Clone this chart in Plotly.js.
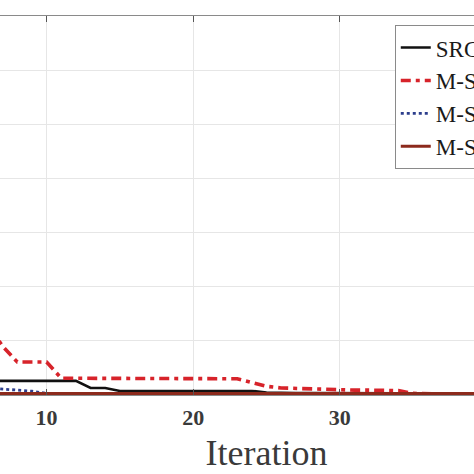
<!DOCTYPE html>
<html>
<head>
<meta charset="utf-8">
<script src="https://cdn.plot.ly/plotly-3.0.1.min.js"></script>
<style>
  html, body { margin: 0; padding: 0; overflow: hidden; width: 474px; height: 474px; background: #fff; }
  #chart { position: absolute; left: -180.5px; top: 0; }
</style>
</head>
<body>
<div id="chart"></div>
<script>
// Iteration numbers
const iterations = [1,2,3,4,5,6,7,8,9,10,11,12,13,14,15,16,17,18,19,20,21,22,23,24,25,26,27,28,29,30,31,32,33,34,35,36,37,38,39,40,41,42,43,44,45,46,47,48,49,50];

// Series names (legend)
const seriesNames = ["SRGA", "M-SRGA1", "M-SRGA2", "M-SRGA3"];

// Series values (off-screen early values estimated)
const srValues = [2.1,1.2,0.6,0.4,0.26,0.26,0.26,0.26,0.26,0.26,0.26,0.26,0.13,0.13,0.075,0.075,0.075,0.075,0.075,0.075,0.075,0.075,0.075,0.075,0.045,0.035,0.035,0.035,0.032,0.03,0.03,0.03,0.03,0.03,0.03,0.03,0.03,0.03,0.03,0.03,0.03,0.03,0.03,0.03,0.03,0.03,0.03,0.03,0.03,0.03];
const m1Values = [5.8,3.9,2.7,2.0,1.6,1.3,0.9,0.61,0.61,0.61,0.31,0.31,0.31,0.31,0.31,0.31,0.30,0.30,0.30,0.30,0.30,0.30,0.30,0.23,0.16,0.13,0.12,0.11,0.10,0.10,0.09,0.09,0.09,0.08,0.03,0.02,0.02,0.02,0.02,0.02,0.02,0.02,0.02,0.02,0.02,0.02,0.02,0.02,0.02,0.02];
const m2Values = [1.6,0.8,0.4,0.2,0.15,0.13,0.11,0.09,0.07,0.03,0.03,0.03,0.03,0.03,0.03,0.03,0.03,0.03,0.03,0.03,0.03,0.03,0.03,0.03,0.03,0.03,0.03,0.03,0.03,0.03,0.03,0.03,0.03,0.03,0.03,0.03,0.03,0.03,0.03,0.03,0.03,0.03,0.03,0.03,0.03,0.03,0.03,0.03,0.03,0.03];
const m3Values = [0.03,0.03,0.03,0.03,0.03,0.03,0.03,0.03,0.03,0.03,0.03,0.03,0.03,0.03,0.03,0.03,0.03,0.03,0.03,0.03,0.03,0.03,0.03,0.03,0.03,0.03,0.03,0.03,0.03,0.03,0.03,0.03,0.03,0.03,0.03,0.03,0.03,0.03,0.03,0.03,0.03,0.03,0.03,0.03,0.03,0.03,0.03,0.03,0.03,0.03];

// Axis tick values
const xTicks = [0,10,20,30,40,50];
const yTicks = [0,1,2,3,4,5,6,7];

const traces = [
  {x: iterations, y: srValues, name: seriesNames[0], mode: "lines", line: {color: "#111111", width: 2.6}},
  {x: iterations, y: m1Values, name: seriesNames[1], mode: "lines", line: {color: "#d7232a", width: 3.6, dash: "10px,5px,4px,5px"}},
  {x: iterations, y: m2Values, name: seriesNames[2], mode: "lines", line: {color: "#2c3e8c", width: 2.8, dash: "dot"}},
  {x: iterations, y: m3Values, name: seriesNames[3], mode: "lines", line: {color: "#8c2a1c", width: 3}}
];

const serif = "Liberation Serif, Times New Roman, serif";

const layout = {
  width: 832.5,
  height: 474,
  margin: {l: 80, r: 20, t: 16, b: 79},
  paper_bgcolor: "#ffffff",
  plot_bgcolor: "#ffffff",
  showlegend: true,
  legend: {
    x: 0.675, y: 0.976, xanchor: "left", yanchor: "top",
    bgcolor: "#ffffff", bordercolor: "#8a8a8a", borderwidth: 1,
    font: {family: serif, size: 23, color: "#1a1a1a"},
    tracegroupgap: 0
  },
  xaxis: {
    range: [0, 50], tickvals: xTicks, ticktext: xTicks.map(String),
    showgrid: true, gridcolor: "#e6e6e6", gridwidth: 1,
    zeroline: false, showline: true, linecolor: "#8a8a8a", linewidth: 1, mirror: "ticks",
    ticks: "inside", ticklen: 6, tickcolor: "#555555",
    ticklabelstandoff: 3,
    tickfont: {family: serif, size: 22, color: "#3a3a3a", weight: "bold"},
    title: {text: "Iteration", font: {family: serif, size: 36, color: "#3a3a3a"}, standoff: 10}
  },
  yaxis: {
    range: [0, 7], tickvals: yTicks,
    showgrid: true, gridcolor: "#e6e6e6", gridwidth: 1,
    zeroline: false, showline: true, linecolor: "#8a8a8a", linewidth: 1, mirror: "ticks",
    ticks: "inside", ticklen: 6, tickcolor: "#555555",
    tickfont: {family: serif, size: 22, color: "#3a3a3a", weight: "bold"}
  }
};

Plotly.newPlot("chart", traces, layout, {displayModeBar: false, staticPlot: true});
</script>
</body>
</html>
